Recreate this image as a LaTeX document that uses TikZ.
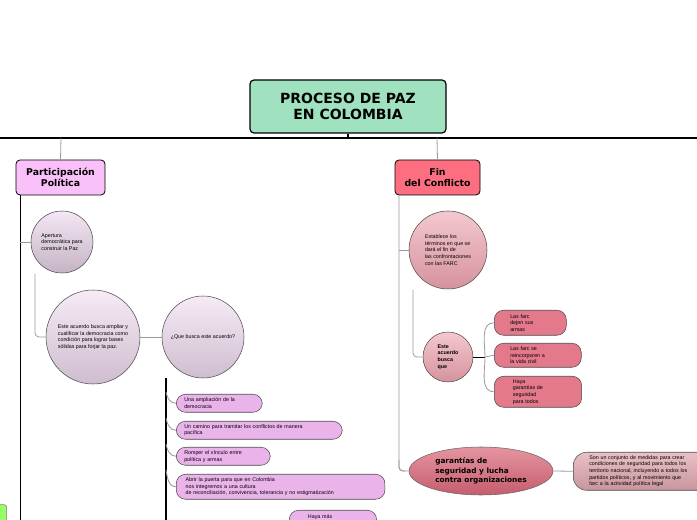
\documentclass[tikz,border=0pt]{standalone}
\usepackage{fontspec}
\setmainfont{Liberation Sans}
\newfontfamily\titlefont{DejaVu Sans}
\usetikzlibrary{shapes.geometric}
\definecolor{titlegreen}{HTML}{A0E2BF}
\definecolor{partpink}{HTML}{F9C0F9}
\definecolor{finred}{HTML}{FC6E80}
\definecolor{lilac}{HTML}{EDD6ED}
\definecolor{lilacpill}{HTML}{EAB4EA}
\definecolor{rosec}{HTML}{EDA3AE}
\definecolor{rosepill}{HTML}{E3798A}
\definecolor{ellred}{HTML}{DB6779}
\definecolor{boxrose}{HTML}{DFA6AE}
\definecolor{conn}{HTML}{999999}
\tikzset{
 main/.style={draw=black,line width=0.9pt,rounded corners=3pt,align=center,font=\titlefont\bfseries},
 circ/.style={circle,draw=black!70,line width=0.4pt,inner sep=0pt,align=left,font=\fontsize{4}{5}\selectfont},
 pill/.style={draw=black!70,line width=0.4pt,rounded corners=7pt,align=left,font=\fontsize{4}{5}\selectfont,anchor=north west,inner sep=0pt},
 link/.style={draw=conn,line width=0.6pt,rounded corners=3pt},
}
\begin{document}
\begin{tikzpicture}[x=0.75pt,y=-0.75pt]
\useasboundingbox (0,0) rectangle (697,520);
% title
\node[main,fill=titlegreen,minimum width=196*0.75pt,minimum height=53*0.75pt,font=\titlefont\bfseries\fontsize{10.5}{12}\selectfont] (t) at (348,106.5) {PROCESO DE PAZ\\EN COLOMBIA};
\coordinate (hl) at (0,138); \coordinate (hr) at (697,138);
\draw[line width=1.2pt] (hl) -- (hr);
\draw[line width=0.8pt] (t.south) -- (348,138);
% level 1
\node[main,fill=partpink,minimum width=89*0.75pt,minimum height=35*0.75pt,font=\titlefont\bfseries\fontsize{7}{8.5}\selectfont,line width=0.6pt] (pp) at (60.5,177.5) {Participación\\Política};
\node[main,fill=finred,minimum width=85*0.75pt,minimum height=35*0.75pt,font=\titlefont\bfseries\fontsize{7}{8.5}\selectfont,line width=0.6pt] (fc) at (437.5,177.5) {Fin\\del Conflicto};
\draw[link] (61,138) -- (pp.north);
\draw[link] (437,138) -- (fc.north);
% left branch
\coordinate (lt) at (20,195); \coordinate (lb) at (20,520);
\draw[line width=0.6pt] (lt) -- (lb);
\node[circ,top color=lilac!60,bottom color=lilac!80!black!90,minimum size=62*0.75pt] (ap) at (62,242) {Apertura\\democrática para\\construir la Paz};
\draw[link] (20,242) -- (ap.west);
\node[circ,top color=lilac!50,bottom color=lilac!85!black!90,minimum size=94*0.75pt] (ea) at (93,337) {Este acuerdo busca ampliar y\\cualificar la democracia como\\condición para lograr bases\\sólidas para forjar la paz.};
\draw[link] (35,274) |- (ea.west);
\node[circ,top color=lilac!50,bottom color=lilac!85!black!90,minimum size=82*0.75pt] (qb) at (203,337) {¿Que busca este acuerdo?};
\draw[link] (ea.east) -- (qb.west);
\coordinate (vt) at (166,378); \coordinate (vb) at (166,520);
\draw[line width=0.8pt] (vt) -- (vb);
\node[pill,fill=lilacpill,minimum width=83*0.75pt,minimum height=18*0.75pt,text width=70*0.75pt,inner xsep=6pt] (p1) at (176,394) {Una ampliación de la\\democracia};
\node[pill,fill=lilacpill,minimum width=162*0.75pt,minimum height=18*0.75pt,text width=150*0.75pt,inner xsep=6pt] (p2) at (176,421) {Un camino para tramitar los conflictos de manera\\pacífica};
\node[pill,fill=lilacpill,minimum width=90*0.75pt,minimum height=18*0.75pt,text width=78*0.75pt,inner xsep=6pt] (p3) at (176,447) {Romper el vínculo entre\\política y armas};
\node[pill,fill=lilacpill,minimum width=204*0.75pt,minimum height=25*0.75pt,text width=190*0.75pt,inner xsep=7pt] (p4) at (176,474) {Abrir la puerta para que en Colombia\\nos integremos a una cultura\\de reconciliación, convivencia, tolerancia y no estigmatización};
\node[pill,fill=lilacpill,minimum width=71*0.75pt,minimum height=25*0.75pt,text width=50*0.75pt,inner xsep=14pt,inner ysep=3pt,anchor=north west,align=left] (p5) at (289,510) {Haya más\\\strut\\\strut};
\draw[link] (166,392) to[out=-80,in=180] (p1.west);
\draw[link] (166,418) to[out=-80,in=180] (p2.west);
\draw[link] (166,444) to[out=-80,in=180] (p3.west);
\draw[link] (166,470) to[out=-80,in=180] (p4.west);
\node[draw=black!50,fill=green!60!lime!60,rounded corners=2pt,minimum width=10pt,minimum height=14pt] (gr) at (0,514) {};
% right branch
\coordinate (rt) at (399,195);
\draw[link] (rt) |- (405,471) coordinate (re);
\node[circ,top color=rosec!60,bottom color=rosec!90!black,minimum size=78*0.75pt] (es) at (448,250) {Establece los\\términos en que se\\dará el fin de\\las confrontaciones\\con las FARC};
\draw[link] (399,250) -- (es.west);
\node[circ,top color=rosec!60,bottom color=rosec!90!black,minimum size=50*0.75pt,font=\bfseries\fontsize{4}{5}\selectfont] (bq) at (448,357) {Este\\acuerdo\\busca\\que};
\draw[link] (413,290) |- (bq.west);
\node[pill,fill=rosepill,minimum width=58*0.75pt,minimum height=25*0.75pt,text width=40*0.75pt,inner xsep=12pt] (r1) at (494,310) {Las farc\\dejen sus\\armas};
\node[pill,fill=rosepill,minimum width=72*0.75pt,minimum height=24*0.75pt,text width=55*0.75pt,inner xsep=12pt] (r2) at (494,343) {Las farc se\\reincorporen a\\la vida civil};
\node[pill,fill=rosepill,minimum width=73*0.75pt,minimum height=31*0.75pt,text width=50*0.75pt,inner xsep=14pt] (r3) at (494,376) {Haya\\garantías de\\seguridad\\para todos};
\draw[line width=0.7pt] (bq.east) -- (485,357);
\draw[link,rounded corners=0pt] (485,357) to[out=90,in=180] (r1.west);
\draw[link] (485,357) -- (r2.west);
\draw[link,rounded corners=0pt] (485,357) to[out=-90,in=180] (r3.west);
\node[ellipse,draw=black!60,top color=ellred!70,bottom color=ellred!90!black,minimum width=144*0.75pt,minimum height=48*0.75pt,inner sep=0pt,align=left,font=\titlefont\bfseries\fontsize{5.5}{7}\selectfont] (gs) at (481,471) {garantías de\\seguridad y lucha\\contra organizaciones};
\draw[link] (399,460) |- (gs.west);
\node[pill,top color=boxrose!70,bottom color=boxrose!90!black,minimum width=140*0.75pt,minimum height=38*0.75pt,text width=125*0.75pt,inner xsep=12pt,rounded corners=10pt] (sc) at (573,452) {Son un conjunto de medidas para crear\\condiciones de seguridad para todos los\\territorio nacional, incluyendo a todos los\\partidos políticos, y al movimiento que\\farc a la actividad política legal};
\draw[link] (gs.east) -- (sc.west);
\end{tikzpicture}
\end{document}
